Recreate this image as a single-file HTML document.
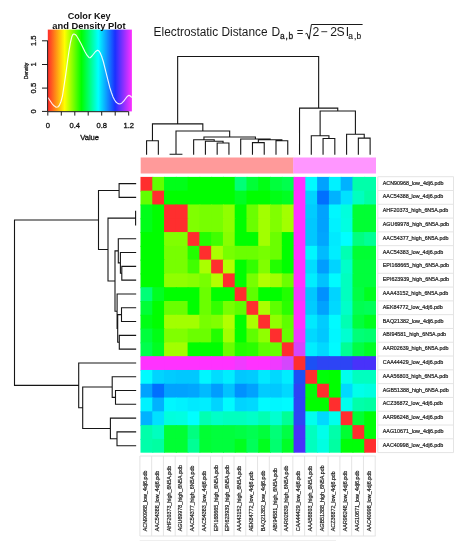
<!DOCTYPE html>
<html lang="en"><head><meta charset="utf-8"><title>Electrostatic Distance heatmap</title>
<style>html,body{margin:0;padding:0;background:#fff}svg{display:block;filter:blur(0.4px)}</style></head>
<body>
<svg width="466" height="550" viewBox="0 0 466 550" font-family="'Liberation Sans', Arial, Helvetica, sans-serif">
<defs><linearGradient id="rb" x1="0" y1="0" x2="1" y2="0"><stop offset="0" stop-color="#ff2a2a"/><stop offset="0.2" stop-color="#ffff00"/><stop offset="0.4" stop-color="#00ff00"/><stop offset="0.6" stop-color="#00ffff"/><stop offset="0.8" stop-color="#1a30ff"/><stop offset="1" stop-color="#ff30ff"/></linearGradient></defs>
<rect width="466" height="550" fill="#fff"/>
<rect x="47.8" y="29.6" width="84.1" height="81.8" fill="url(#rb)"/>
<polyline fill="none" stroke="#fff" stroke-opacity="0.9" stroke-width="1.15" stroke-linejoin="round" points="47.9,97.5 51.8,103.3 54,105.8 56.1,107.2 57.8,107 59.3,105.5 61,101.5 62.5,95.8 64,86 65.75,74.4 67.4,62 69,50.8 70.4,42.5 71.8,36.8 72.9,34.6 73.9,34 75.2,34.5 76.5,35.7 78.6,39.2 80.8,43.2 85,51.8 87,55.2 88.9,57.4 89.7,57.8 90.4,57.6 92,56 93.6,54 95.6,51.5 97.5,50.3 98.8,50.8 100,52.5 101.6,56.2 103.3,61.5 106.5,74.4 109.7,87.2 111.4,92.5 113,96.9 114.6,100 116.2,102.3 118,103.6 119.8,104 121.7,103.2 123.7,101.2 125.3,99 126.9,96.9 128,95.8 129,95.4 130.4,96 131.8,97.5"/>
<path d="M47.8,111.7H128.7M47.8,111.7V115.60000000000001M61.3,111.7V115.60000000000001M74.8,111.7V115.60000000000001M88.2,111.7V115.60000000000001M101.7,111.7V115.60000000000001M115.2,111.7V115.60000000000001M128.7,111.7V115.60000000000001M42,111.4H47.8M42,88.1H47.8M42,64.5H47.8M42,40.8H47.8M47.6,40.8V111.4" stroke="#1a1a1a" stroke-width="1" fill="none"/>
<text x="47.8" y="128.3" font-size="7.6" text-anchor="middle" fill="#111" stroke="#111" stroke-width="0.3">0</text>
<text x="74.8" y="128.3" font-size="7.6" text-anchor="middle" fill="#111" stroke="#111" stroke-width="0.3">0.4</text>
<text x="101.7" y="128.3" font-size="7.6" text-anchor="middle" fill="#111" stroke="#111" stroke-width="0.3">0.8</text>
<text x="128.7" y="128.3" font-size="7.6" text-anchor="middle" fill="#111" stroke="#111" stroke-width="0.3">1.2</text>
<text x="89.6" y="139.8" font-size="7.6" text-anchor="middle" fill="#111" stroke="#111" stroke-width="0.3">Value</text>
<text transform="translate(36.2,111.4) rotate(-90)" font-size="7.6" text-anchor="middle" fill="#111" stroke="#111" stroke-width="0.3">0</text>
<text transform="translate(36.2,88.1) rotate(-90)" font-size="7.6" text-anchor="middle" fill="#111" stroke="#111" stroke-width="0.3">0.5</text>
<text transform="translate(36.2,64.5) rotate(-90)" font-size="7.6" text-anchor="middle" fill="#111" stroke="#111" stroke-width="0.3">1</text>
<text transform="translate(36.2,40.8) rotate(-90)" font-size="7.6" text-anchor="middle" fill="#111" stroke="#111" stroke-width="0.3">1.5</text>
<text transform="translate(28.2,71) rotate(-90)" font-size="5" text-anchor="middle" fill="#111" stroke="#111" stroke-width="0.25">Density</text>
<text x="89.2" y="19.3" font-size="9.2" font-weight="bold" text-anchor="middle" fill="#111" textLength="43" lengthAdjust="spacingAndGlyphs">Color Key</text>
<text x="89" y="29.1" font-size="9.2" font-weight="bold" text-anchor="middle" fill="#111" textLength="73.4" lengthAdjust="spacingAndGlyphs">and Density Plot</text>
<text x="153.6" y="36" font-size="12" fill="#1a1a1a" textLength="114" lengthAdjust="spacingAndGlyphs">Electrostatic Distance</text>
<text x="271.4" y="36" font-size="12" fill="#1a1a1a">D</text>
<text y="38.6" font-size="8.4" fill="#1a1a1a" stroke="#1a1a1a" stroke-width="0.3"><tspan x="279.9">a</tspan><tspan x="285.6">,</tspan><tspan x="288.4">b</tspan></text>
<text x="296.7" y="35.9" font-size="12" fill="#1a1a1a" textLength="6.6" lengthAdjust="spacingAndGlyphs">=</text>
<path d="M305.4,33.9L306.9,33.2L309.2,39.2L311.4,24.5H362.6" stroke="#1a1a1a" stroke-width="1" fill="none"/>
<text y="36" font-size="12.2" fill="#1a1a1a"><tspan x="312.6">2</tspan><tspan x="320.4">−</tspan><tspan x="330.3">2</tspan><tspan x="336.4">S</tspan><tspan x="345.7">I</tspan></text>
<text y="38.6" font-size="8.4" fill="#1a1a1a" stroke="#1a1a1a" stroke-width="0.15"><tspan x="348.15">a</tspan><tspan x="353.9">,</tspan><tspan x="356.5">b</tspan></text>
<rect x="140.7" y="157.5" width="152.80" height="16" fill="#ff9a9a"/>
<rect x="293.20" y="157.5" width="82.80" height="16" fill="#ff96ff"/>
<g>
<rect x="140.50" y="176.90" width="12.78" height="14.79" fill="#ff2e2e"/>
<rect x="152.28" y="176.90" width="12.78" height="14.79" fill="#62ff00"/>
<rect x="164.05" y="176.90" width="12.78" height="14.79" fill="#00ff19"/>
<rect x="175.82" y="176.90" width="12.78" height="14.79" fill="#00ff19"/>
<rect x="187.60" y="176.90" width="12.78" height="14.79" fill="#00ff00"/>
<rect x="199.38" y="176.90" width="12.78" height="14.79" fill="#00ff00"/>
<rect x="211.15" y="176.90" width="12.78" height="14.79" fill="#00ff00"/>
<rect x="222.93" y="176.90" width="12.78" height="14.79" fill="#00ff00"/>
<rect x="234.70" y="176.90" width="12.78" height="14.79" fill="#00ff77"/>
<rect x="246.48" y="176.90" width="12.78" height="14.79" fill="#00ff37"/>
<rect x="258.25" y="176.90" width="12.78" height="14.79" fill="#00ff15"/>
<rect x="270.02" y="176.90" width="12.78" height="14.79" fill="#00ff3c"/>
<rect x="281.80" y="176.90" width="12.78" height="14.79" fill="#00ff4d"/>
<rect x="293.58" y="176.90" width="12.78" height="14.79" fill="#ff32ff"/>
<rect x="305.35" y="176.90" width="12.78" height="14.79" fill="#00fbff"/>
<rect x="317.12" y="176.90" width="12.78" height="14.79" fill="#00a2ff"/>
<rect x="328.90" y="176.90" width="12.78" height="14.79" fill="#00f2ff"/>
<rect x="340.68" y="176.90" width="12.78" height="14.79" fill="#00b2ff"/>
<rect x="352.45" y="176.90" width="12.78" height="14.79" fill="#00ffaa"/>
<rect x="364.23" y="176.90" width="11.78" height="14.79" fill="#00ffaa"/>
<rect x="140.50" y="190.69" width="12.78" height="14.79" fill="#62ff00"/>
<rect x="152.28" y="190.69" width="12.78" height="14.79" fill="#ff2e2e"/>
<rect x="164.05" y="190.69" width="12.78" height="14.79" fill="#00ff00"/>
<rect x="175.82" y="190.69" width="12.78" height="14.79" fill="#00ff00"/>
<rect x="187.60" y="190.69" width="12.78" height="14.79" fill="#00ff00"/>
<rect x="199.38" y="190.69" width="12.78" height="14.79" fill="#00ff00"/>
<rect x="211.15" y="190.69" width="12.78" height="14.79" fill="#00ff00"/>
<rect x="222.93" y="190.69" width="12.78" height="14.79" fill="#00ff00"/>
<rect x="234.70" y="190.69" width="12.78" height="14.79" fill="#00ff22"/>
<rect x="246.48" y="190.69" width="12.78" height="14.79" fill="#00ff00"/>
<rect x="258.25" y="190.69" width="12.78" height="14.79" fill="#00ff00"/>
<rect x="270.02" y="190.69" width="12.78" height="14.79" fill="#00ff15"/>
<rect x="281.80" y="190.69" width="12.78" height="14.79" fill="#00ff22"/>
<rect x="293.58" y="190.69" width="12.78" height="14.79" fill="#ff32ff"/>
<rect x="305.35" y="190.69" width="12.78" height="14.79" fill="#00d4ff"/>
<rect x="317.12" y="190.69" width="12.78" height="14.79" fill="#006fff"/>
<rect x="328.90" y="190.69" width="12.78" height="14.79" fill="#00b2ff"/>
<rect x="340.68" y="190.69" width="12.78" height="14.79" fill="#00e1ff"/>
<rect x="352.45" y="190.69" width="12.78" height="14.79" fill="#00ffbf"/>
<rect x="364.23" y="190.69" width="11.78" height="14.79" fill="#00ffa2"/>
<rect x="140.50" y="204.48" width="12.78" height="14.79" fill="#00ff19"/>
<rect x="152.28" y="204.48" width="12.78" height="14.79" fill="#00ff00"/>
<rect x="164.05" y="204.48" width="12.78" height="14.79" fill="#ff2e2e"/>
<rect x="175.82" y="204.48" width="12.78" height="14.79" fill="#ff2e2e"/>
<rect x="187.60" y="204.48" width="12.78" height="14.79" fill="#80ff00"/>
<rect x="199.38" y="204.48" width="12.78" height="14.79" fill="#77ff00"/>
<rect x="211.15" y="204.48" width="12.78" height="14.79" fill="#77ff00"/>
<rect x="222.93" y="204.48" width="12.78" height="14.79" fill="#90ff00"/>
<rect x="234.70" y="204.48" width="12.78" height="14.79" fill="#00ff00"/>
<rect x="246.48" y="204.48" width="12.78" height="14.79" fill="#6aff00"/>
<rect x="258.25" y="204.48" width="12.78" height="14.79" fill="#a2ff00"/>
<rect x="270.02" y="204.48" width="12.78" height="14.79" fill="#80ff00"/>
<rect x="281.80" y="204.48" width="12.78" height="14.79" fill="#a2ff00"/>
<rect x="293.58" y="204.48" width="12.78" height="14.79" fill="#ff32ff"/>
<rect x="305.35" y="204.48" width="12.78" height="14.79" fill="#00ccff"/>
<rect x="317.12" y="204.48" width="12.78" height="14.79" fill="#00a2ff"/>
<rect x="328.90" y="204.48" width="12.78" height="14.79" fill="#00f7ff"/>
<rect x="340.68" y="204.48" width="12.78" height="14.79" fill="#00ffdd"/>
<rect x="352.45" y="204.48" width="12.78" height="14.79" fill="#00ff33"/>
<rect x="364.23" y="204.48" width="11.78" height="14.79" fill="#00ff33"/>
<rect x="140.50" y="218.27" width="12.78" height="14.79" fill="#00ff19"/>
<rect x="152.28" y="218.27" width="12.78" height="14.79" fill="#00ff00"/>
<rect x="164.05" y="218.27" width="12.78" height="14.79" fill="#ff2e2e"/>
<rect x="175.82" y="218.27" width="12.78" height="14.79" fill="#ff2e2e"/>
<rect x="187.60" y="218.27" width="12.78" height="14.79" fill="#80ff00"/>
<rect x="199.38" y="218.27" width="12.78" height="14.79" fill="#77ff00"/>
<rect x="211.15" y="218.27" width="12.78" height="14.79" fill="#77ff00"/>
<rect x="222.93" y="218.27" width="12.78" height="14.79" fill="#90ff00"/>
<rect x="234.70" y="218.27" width="12.78" height="14.79" fill="#00ff00"/>
<rect x="246.48" y="218.27" width="12.78" height="14.79" fill="#6aff00"/>
<rect x="258.25" y="218.27" width="12.78" height="14.79" fill="#a2ff00"/>
<rect x="270.02" y="218.27" width="12.78" height="14.79" fill="#80ff00"/>
<rect x="281.80" y="218.27" width="12.78" height="14.79" fill="#a2ff00"/>
<rect x="293.58" y="218.27" width="12.78" height="14.79" fill="#ff32ff"/>
<rect x="305.35" y="218.27" width="12.78" height="14.79" fill="#00c8ff"/>
<rect x="317.12" y="218.27" width="12.78" height="14.79" fill="#00a2ff"/>
<rect x="328.90" y="218.27" width="12.78" height="14.79" fill="#00f2ff"/>
<rect x="340.68" y="218.27" width="12.78" height="14.79" fill="#00ffe1"/>
<rect x="352.45" y="218.27" width="12.78" height="14.79" fill="#00ff33"/>
<rect x="364.23" y="218.27" width="11.78" height="14.79" fill="#00ff33"/>
<rect x="140.50" y="232.06" width="12.78" height="14.79" fill="#00ff00"/>
<rect x="152.28" y="232.06" width="12.78" height="14.79" fill="#00ff00"/>
<rect x="164.05" y="232.06" width="12.78" height="14.79" fill="#80ff00"/>
<rect x="175.82" y="232.06" width="12.78" height="14.79" fill="#80ff00"/>
<rect x="187.60" y="232.06" width="12.78" height="14.79" fill="#ff2e2e"/>
<rect x="199.38" y="232.06" width="12.78" height="14.79" fill="#22ff00"/>
<rect x="211.15" y="232.06" width="12.78" height="14.79" fill="#40ff00"/>
<rect x="222.93" y="232.06" width="12.78" height="14.79" fill="#88ff00"/>
<rect x="234.70" y="232.06" width="12.78" height="14.79" fill="#00ff00"/>
<rect x="246.48" y="232.06" width="12.78" height="14.79" fill="#00ff00"/>
<rect x="258.25" y="232.06" width="12.78" height="14.79" fill="#a2ff00"/>
<rect x="270.02" y="232.06" width="12.78" height="14.79" fill="#6aff00"/>
<rect x="281.80" y="232.06" width="12.78" height="14.79" fill="#00ff00"/>
<rect x="293.58" y="232.06" width="12.78" height="14.79" fill="#ff32ff"/>
<rect x="305.35" y="232.06" width="12.78" height="14.79" fill="#00c8ff"/>
<rect x="317.12" y="232.06" width="12.78" height="14.79" fill="#00a6ff"/>
<rect x="328.90" y="232.06" width="12.78" height="14.79" fill="#00eaff"/>
<rect x="340.68" y="232.06" width="12.78" height="14.79" fill="#00ffff"/>
<rect x="352.45" y="232.06" width="12.78" height="14.79" fill="#00ff80"/>
<rect x="364.23" y="232.06" width="11.78" height="14.79" fill="#00ff95"/>
<rect x="140.50" y="245.85" width="12.78" height="14.79" fill="#00ff00"/>
<rect x="152.28" y="245.85" width="12.78" height="14.79" fill="#00ff00"/>
<rect x="164.05" y="245.85" width="12.78" height="14.79" fill="#77ff00"/>
<rect x="175.82" y="245.85" width="12.78" height="14.79" fill="#77ff00"/>
<rect x="187.60" y="245.85" width="12.78" height="14.79" fill="#22ff00"/>
<rect x="199.38" y="245.85" width="12.78" height="14.79" fill="#ff2e2e"/>
<rect x="211.15" y="245.85" width="12.78" height="14.79" fill="#aaff00"/>
<rect x="222.93" y="245.85" width="12.78" height="14.79" fill="#77ff00"/>
<rect x="234.70" y="245.85" width="12.78" height="14.79" fill="#6aff00"/>
<rect x="246.48" y="245.85" width="12.78" height="14.79" fill="#6aff00"/>
<rect x="258.25" y="245.85" width="12.78" height="14.79" fill="#77ff00"/>
<rect x="270.02" y="245.85" width="12.78" height="14.79" fill="#6aff00"/>
<rect x="281.80" y="245.85" width="12.78" height="14.79" fill="#00ff00"/>
<rect x="293.58" y="245.85" width="12.78" height="14.79" fill="#ff32ff"/>
<rect x="305.35" y="245.85" width="12.78" height="14.79" fill="#00f7ff"/>
<rect x="317.12" y="245.85" width="12.78" height="14.79" fill="#00bbff"/>
<rect x="328.90" y="245.85" width="12.78" height="14.79" fill="#00eeff"/>
<rect x="340.68" y="245.85" width="12.78" height="14.79" fill="#00ffb3"/>
<rect x="352.45" y="245.85" width="12.78" height="14.79" fill="#00ff33"/>
<rect x="364.23" y="245.85" width="11.78" height="14.79" fill="#00ff33"/>
<rect x="140.50" y="259.64" width="12.78" height="14.79" fill="#00ff00"/>
<rect x="152.28" y="259.64" width="12.78" height="14.79" fill="#00ff00"/>
<rect x="164.05" y="259.64" width="12.78" height="14.79" fill="#77ff00"/>
<rect x="175.82" y="259.64" width="12.78" height="14.79" fill="#77ff00"/>
<rect x="187.60" y="259.64" width="12.78" height="14.79" fill="#40ff00"/>
<rect x="199.38" y="259.64" width="12.78" height="14.79" fill="#aaff00"/>
<rect x="211.15" y="259.64" width="12.78" height="14.79" fill="#ff2e2e"/>
<rect x="222.93" y="259.64" width="12.78" height="14.79" fill="#b2ff00"/>
<rect x="234.70" y="259.64" width="12.78" height="14.79" fill="#00ff00"/>
<rect x="246.48" y="259.64" width="12.78" height="14.79" fill="#33ff00"/>
<rect x="258.25" y="259.64" width="12.78" height="14.79" fill="#80ff00"/>
<rect x="270.02" y="259.64" width="12.78" height="14.79" fill="#22ff00"/>
<rect x="281.80" y="259.64" width="12.78" height="14.79" fill="#00ff00"/>
<rect x="293.58" y="259.64" width="12.78" height="14.79" fill="#ff32ff"/>
<rect x="305.35" y="259.64" width="12.78" height="14.79" fill="#00ddff"/>
<rect x="317.12" y="259.64" width="12.78" height="14.79" fill="#009dff"/>
<rect x="328.90" y="259.64" width="12.78" height="14.79" fill="#00d4ff"/>
<rect x="340.68" y="259.64" width="12.78" height="14.79" fill="#00ffc8"/>
<rect x="352.45" y="259.64" width="12.78" height="14.79" fill="#00ff3c"/>
<rect x="364.23" y="259.64" width="11.78" height="14.79" fill="#00ff3c"/>
<rect x="140.50" y="273.43" width="12.78" height="14.79" fill="#00ff00"/>
<rect x="152.28" y="273.43" width="12.78" height="14.79" fill="#00ff00"/>
<rect x="164.05" y="273.43" width="12.78" height="14.79" fill="#90ff00"/>
<rect x="175.82" y="273.43" width="12.78" height="14.79" fill="#90ff00"/>
<rect x="187.60" y="273.43" width="12.78" height="14.79" fill="#88ff00"/>
<rect x="199.38" y="273.43" width="12.78" height="14.79" fill="#77ff00"/>
<rect x="211.15" y="273.43" width="12.78" height="14.79" fill="#b2ff00"/>
<rect x="222.93" y="273.43" width="12.78" height="14.79" fill="#ff2e2e"/>
<rect x="234.70" y="273.43" width="12.78" height="14.79" fill="#00ff00"/>
<rect x="246.48" y="273.43" width="12.78" height="14.79" fill="#77ff00"/>
<rect x="258.25" y="273.43" width="12.78" height="14.79" fill="#b2ff00"/>
<rect x="270.02" y="273.43" width="12.78" height="14.79" fill="#a2ff00"/>
<rect x="281.80" y="273.43" width="12.78" height="14.79" fill="#6aff00"/>
<rect x="293.58" y="273.43" width="12.78" height="14.79" fill="#ff32ff"/>
<rect x="305.35" y="273.43" width="12.78" height="14.79" fill="#00eeff"/>
<rect x="317.12" y="273.43" width="12.78" height="14.79" fill="#00c3ff"/>
<rect x="328.90" y="273.43" width="12.78" height="14.79" fill="#00fbff"/>
<rect x="340.68" y="273.43" width="12.78" height="14.79" fill="#00ffbf"/>
<rect x="352.45" y="273.43" width="12.78" height="14.79" fill="#00ff3c"/>
<rect x="364.23" y="273.43" width="11.78" height="14.79" fill="#00ff3c"/>
<rect x="140.50" y="287.22" width="12.78" height="14.79" fill="#00ff77"/>
<rect x="152.28" y="287.22" width="12.78" height="14.79" fill="#00ff22"/>
<rect x="164.05" y="287.22" width="12.78" height="14.79" fill="#00ff00"/>
<rect x="175.82" y="287.22" width="12.78" height="14.79" fill="#00ff00"/>
<rect x="187.60" y="287.22" width="12.78" height="14.79" fill="#00ff00"/>
<rect x="199.38" y="287.22" width="12.78" height="14.79" fill="#6aff00"/>
<rect x="211.15" y="287.22" width="12.78" height="14.79" fill="#00ff00"/>
<rect x="222.93" y="287.22" width="12.78" height="14.79" fill="#00ff00"/>
<rect x="234.70" y="287.22" width="12.78" height="14.79" fill="#ff2e2e"/>
<rect x="246.48" y="287.22" width="12.78" height="14.79" fill="#5eff00"/>
<rect x="258.25" y="287.22" width="12.78" height="14.79" fill="#00ff00"/>
<rect x="270.02" y="287.22" width="12.78" height="14.79" fill="#00ff00"/>
<rect x="281.80" y="287.22" width="12.78" height="14.79" fill="#22ff00"/>
<rect x="293.58" y="287.22" width="12.78" height="14.79" fill="#f03aff"/>
<rect x="305.35" y="287.22" width="12.78" height="14.79" fill="#00c8ff"/>
<rect x="317.12" y="287.22" width="12.78" height="14.79" fill="#0091ff"/>
<rect x="328.90" y="287.22" width="12.78" height="14.79" fill="#00d4ff"/>
<rect x="340.68" y="287.22" width="12.78" height="14.79" fill="#00ffbf"/>
<rect x="352.45" y="287.22" width="12.78" height="14.79" fill="#00ff44"/>
<rect x="364.23" y="287.22" width="11.78" height="14.79" fill="#00ff1e"/>
<rect x="140.50" y="301.01" width="12.78" height="14.79" fill="#00ff37"/>
<rect x="152.28" y="301.01" width="12.78" height="14.79" fill="#00ff00"/>
<rect x="164.05" y="301.01" width="12.78" height="14.79" fill="#6aff00"/>
<rect x="175.82" y="301.01" width="12.78" height="14.79" fill="#6aff00"/>
<rect x="187.60" y="301.01" width="12.78" height="14.79" fill="#00ff00"/>
<rect x="199.38" y="301.01" width="12.78" height="14.79" fill="#6aff00"/>
<rect x="211.15" y="301.01" width="12.78" height="14.79" fill="#33ff00"/>
<rect x="222.93" y="301.01" width="12.78" height="14.79" fill="#77ff00"/>
<rect x="234.70" y="301.01" width="12.78" height="14.79" fill="#5eff00"/>
<rect x="246.48" y="301.01" width="12.78" height="14.79" fill="#ff2e2e"/>
<rect x="258.25" y="301.01" width="12.78" height="14.79" fill="#aaff00"/>
<rect x="270.02" y="301.01" width="12.78" height="14.79" fill="#5eff00"/>
<rect x="281.80" y="301.01" width="12.78" height="14.79" fill="#2aff00"/>
<rect x="293.58" y="301.01" width="12.78" height="14.79" fill="#ff32ff"/>
<rect x="305.35" y="301.01" width="12.78" height="14.79" fill="#00ccff"/>
<rect x="317.12" y="301.01" width="12.78" height="14.79" fill="#00a2ff"/>
<rect x="328.90" y="301.01" width="12.78" height="14.79" fill="#00d9ff"/>
<rect x="340.68" y="301.01" width="12.78" height="14.79" fill="#00ffc8"/>
<rect x="352.45" y="301.01" width="12.78" height="14.79" fill="#00ff51"/>
<rect x="364.23" y="301.01" width="11.78" height="14.79" fill="#00ff59"/>
<rect x="140.50" y="314.80" width="12.78" height="14.79" fill="#00ff15"/>
<rect x="152.28" y="314.80" width="12.78" height="14.79" fill="#00ff00"/>
<rect x="164.05" y="314.80" width="12.78" height="14.79" fill="#a2ff00"/>
<rect x="175.82" y="314.80" width="12.78" height="14.79" fill="#a2ff00"/>
<rect x="187.60" y="314.80" width="12.78" height="14.79" fill="#a2ff00"/>
<rect x="199.38" y="314.80" width="12.78" height="14.79" fill="#77ff00"/>
<rect x="211.15" y="314.80" width="12.78" height="14.79" fill="#80ff00"/>
<rect x="222.93" y="314.80" width="12.78" height="14.79" fill="#b2ff00"/>
<rect x="234.70" y="314.80" width="12.78" height="14.79" fill="#00ff00"/>
<rect x="246.48" y="314.80" width="12.78" height="14.79" fill="#aaff00"/>
<rect x="258.25" y="314.80" width="12.78" height="14.79" fill="#ff2e2e"/>
<rect x="270.02" y="314.80" width="12.78" height="14.79" fill="#90ff00"/>
<rect x="281.80" y="314.80" width="12.78" height="14.79" fill="#5eff00"/>
<rect x="293.58" y="314.80" width="12.78" height="14.79" fill="#ff32ff"/>
<rect x="305.35" y="314.80" width="12.78" height="14.79" fill="#00eaff"/>
<rect x="317.12" y="314.80" width="12.78" height="14.79" fill="#00ccff"/>
<rect x="328.90" y="314.80" width="12.78" height="14.79" fill="#00fbff"/>
<rect x="340.68" y="314.80" width="12.78" height="14.79" fill="#00ffb3"/>
<rect x="352.45" y="314.80" width="12.78" height="14.79" fill="#00ff3c"/>
<rect x="364.23" y="314.80" width="11.78" height="14.79" fill="#00ff1e"/>
<rect x="140.50" y="328.59" width="12.78" height="14.79" fill="#00ff3c"/>
<rect x="152.28" y="328.59" width="12.78" height="14.79" fill="#00ff15"/>
<rect x="164.05" y="328.59" width="12.78" height="14.79" fill="#80ff00"/>
<rect x="175.82" y="328.59" width="12.78" height="14.79" fill="#80ff00"/>
<rect x="187.60" y="328.59" width="12.78" height="14.79" fill="#6aff00"/>
<rect x="199.38" y="328.59" width="12.78" height="14.79" fill="#6aff00"/>
<rect x="211.15" y="328.59" width="12.78" height="14.79" fill="#22ff00"/>
<rect x="222.93" y="328.59" width="12.78" height="14.79" fill="#a2ff00"/>
<rect x="234.70" y="328.59" width="12.78" height="14.79" fill="#00ff00"/>
<rect x="246.48" y="328.59" width="12.78" height="14.79" fill="#5eff00"/>
<rect x="258.25" y="328.59" width="12.78" height="14.79" fill="#90ff00"/>
<rect x="270.02" y="328.59" width="12.78" height="14.79" fill="#ff2e2e"/>
<rect x="281.80" y="328.59" width="12.78" height="14.79" fill="#66ff00"/>
<rect x="293.58" y="328.59" width="12.78" height="14.79" fill="#f03aff"/>
<rect x="305.35" y="328.59" width="12.78" height="14.79" fill="#00d9ff"/>
<rect x="317.12" y="328.59" width="12.78" height="14.79" fill="#00c8ff"/>
<rect x="328.90" y="328.59" width="12.78" height="14.79" fill="#00f7ff"/>
<rect x="340.68" y="328.59" width="12.78" height="14.79" fill="#00ffd0"/>
<rect x="352.45" y="328.59" width="12.78" height="14.79" fill="#00ff77"/>
<rect x="364.23" y="328.59" width="11.78" height="14.79" fill="#00ff6f"/>
<rect x="140.50" y="342.38" width="12.78" height="14.79" fill="#00ff4d"/>
<rect x="152.28" y="342.38" width="12.78" height="14.79" fill="#00ff22"/>
<rect x="164.05" y="342.38" width="12.78" height="14.79" fill="#a2ff00"/>
<rect x="175.82" y="342.38" width="12.78" height="14.79" fill="#a2ff00"/>
<rect x="187.60" y="342.38" width="12.78" height="14.79" fill="#00ff00"/>
<rect x="199.38" y="342.38" width="12.78" height="14.79" fill="#00ff00"/>
<rect x="211.15" y="342.38" width="12.78" height="14.79" fill="#00ff00"/>
<rect x="222.93" y="342.38" width="12.78" height="14.79" fill="#6aff00"/>
<rect x="234.70" y="342.38" width="12.78" height="14.79" fill="#22ff00"/>
<rect x="246.48" y="342.38" width="12.78" height="14.79" fill="#2aff00"/>
<rect x="258.25" y="342.38" width="12.78" height="14.79" fill="#5eff00"/>
<rect x="270.02" y="342.38" width="12.78" height="14.79" fill="#66ff00"/>
<rect x="281.80" y="342.38" width="12.78" height="14.79" fill="#ff2e2e"/>
<rect x="293.58" y="342.38" width="12.78" height="14.79" fill="#d446fc"/>
<rect x="305.35" y="342.38" width="12.78" height="14.79" fill="#00eeff"/>
<rect x="317.12" y="342.38" width="12.78" height="14.79" fill="#00d9ff"/>
<rect x="328.90" y="342.38" width="12.78" height="14.79" fill="#00fbff"/>
<rect x="340.68" y="342.38" width="12.78" height="14.79" fill="#00ff95"/>
<rect x="352.45" y="342.38" width="12.78" height="14.79" fill="#00ff44"/>
<rect x="364.23" y="342.38" width="11.78" height="14.79" fill="#00ff26"/>
<rect x="140.50" y="356.17" width="12.78" height="14.79" fill="#ff32ff"/>
<rect x="152.28" y="356.17" width="12.78" height="14.79" fill="#ff32ff"/>
<rect x="164.05" y="356.17" width="12.78" height="14.79" fill="#ff32ff"/>
<rect x="175.82" y="356.17" width="12.78" height="14.79" fill="#ff32ff"/>
<rect x="187.60" y="356.17" width="12.78" height="14.79" fill="#ff32ff"/>
<rect x="199.38" y="356.17" width="12.78" height="14.79" fill="#ff32ff"/>
<rect x="211.15" y="356.17" width="12.78" height="14.79" fill="#ff32ff"/>
<rect x="222.93" y="356.17" width="12.78" height="14.79" fill="#ff32ff"/>
<rect x="234.70" y="356.17" width="12.78" height="14.79" fill="#f03aff"/>
<rect x="246.48" y="356.17" width="12.78" height="14.79" fill="#ff32ff"/>
<rect x="258.25" y="356.17" width="12.78" height="14.79" fill="#ff32ff"/>
<rect x="270.02" y="356.17" width="12.78" height="14.79" fill="#f03aff"/>
<rect x="281.80" y="356.17" width="12.78" height="14.79" fill="#d446fc"/>
<rect x="293.58" y="356.17" width="12.78" height="14.79" fill="#ff2e2e"/>
<rect x="305.35" y="356.17" width="12.78" height="14.79" fill="#1c50f5"/>
<rect x="317.12" y="356.17" width="12.78" height="14.79" fill="#2d44f5"/>
<rect x="328.90" y="356.17" width="12.78" height="14.79" fill="#2d44f5"/>
<rect x="340.68" y="356.17" width="12.78" height="14.79" fill="#2d44f5"/>
<rect x="352.45" y="356.17" width="12.78" height="14.79" fill="#4832fa"/>
<rect x="364.23" y="356.17" width="11.78" height="14.79" fill="#4832fa"/>
<rect x="140.50" y="369.96" width="12.78" height="14.79" fill="#00fbff"/>
<rect x="152.28" y="369.96" width="12.78" height="14.79" fill="#00d4ff"/>
<rect x="164.05" y="369.96" width="12.78" height="14.79" fill="#00ccff"/>
<rect x="175.82" y="369.96" width="12.78" height="14.79" fill="#00c8ff"/>
<rect x="187.60" y="369.96" width="12.78" height="14.79" fill="#00c8ff"/>
<rect x="199.38" y="369.96" width="12.78" height="14.79" fill="#00f7ff"/>
<rect x="211.15" y="369.96" width="12.78" height="14.79" fill="#00ddff"/>
<rect x="222.93" y="369.96" width="12.78" height="14.79" fill="#00eeff"/>
<rect x="234.70" y="369.96" width="12.78" height="14.79" fill="#00c8ff"/>
<rect x="246.48" y="369.96" width="12.78" height="14.79" fill="#00ccff"/>
<rect x="258.25" y="369.96" width="12.78" height="14.79" fill="#00eaff"/>
<rect x="270.02" y="369.96" width="12.78" height="14.79" fill="#00d9ff"/>
<rect x="281.80" y="369.96" width="12.78" height="14.79" fill="#00eeff"/>
<rect x="293.58" y="369.96" width="12.78" height="14.79" fill="#1c50f5"/>
<rect x="305.35" y="369.96" width="12.78" height="14.79" fill="#ff2e2e"/>
<rect x="317.12" y="369.96" width="12.78" height="14.79" fill="#00ff08"/>
<rect x="328.90" y="369.96" width="12.78" height="14.79" fill="#00ff00"/>
<rect x="340.68" y="369.96" width="12.78" height="14.79" fill="#00ffee"/>
<rect x="352.45" y="369.96" width="12.78" height="14.79" fill="#00ffbf"/>
<rect x="364.23" y="369.96" width="11.78" height="14.79" fill="#00ffbf"/>
<rect x="140.50" y="383.75" width="12.78" height="14.79" fill="#00a2ff"/>
<rect x="152.28" y="383.75" width="12.78" height="14.79" fill="#006fff"/>
<rect x="164.05" y="383.75" width="12.78" height="14.79" fill="#00a2ff"/>
<rect x="175.82" y="383.75" width="12.78" height="14.79" fill="#00a2ff"/>
<rect x="187.60" y="383.75" width="12.78" height="14.79" fill="#00a6ff"/>
<rect x="199.38" y="383.75" width="12.78" height="14.79" fill="#00bbff"/>
<rect x="211.15" y="383.75" width="12.78" height="14.79" fill="#009dff"/>
<rect x="222.93" y="383.75" width="12.78" height="14.79" fill="#00c3ff"/>
<rect x="234.70" y="383.75" width="12.78" height="14.79" fill="#0091ff"/>
<rect x="246.48" y="383.75" width="12.78" height="14.79" fill="#00a2ff"/>
<rect x="258.25" y="383.75" width="12.78" height="14.79" fill="#00ccff"/>
<rect x="270.02" y="383.75" width="12.78" height="14.79" fill="#00c8ff"/>
<rect x="281.80" y="383.75" width="12.78" height="14.79" fill="#00d9ff"/>
<rect x="293.58" y="383.75" width="12.78" height="14.79" fill="#2d44f5"/>
<rect x="305.35" y="383.75" width="12.78" height="14.79" fill="#00ff08"/>
<rect x="317.12" y="383.75" width="12.78" height="14.79" fill="#ff2e2e"/>
<rect x="328.90" y="383.75" width="12.78" height="14.79" fill="#00ff00"/>
<rect x="340.68" y="383.75" width="12.78" height="14.79" fill="#00d9ff"/>
<rect x="352.45" y="383.75" width="12.78" height="14.79" fill="#00ffea"/>
<rect x="364.23" y="383.75" width="11.78" height="14.79" fill="#00ffe1"/>
<rect x="140.50" y="397.54" width="12.78" height="14.79" fill="#00f2ff"/>
<rect x="152.28" y="397.54" width="12.78" height="14.79" fill="#00b2ff"/>
<rect x="164.05" y="397.54" width="12.78" height="14.79" fill="#00f7ff"/>
<rect x="175.82" y="397.54" width="12.78" height="14.79" fill="#00f2ff"/>
<rect x="187.60" y="397.54" width="12.78" height="14.79" fill="#00eaff"/>
<rect x="199.38" y="397.54" width="12.78" height="14.79" fill="#00eeff"/>
<rect x="211.15" y="397.54" width="12.78" height="14.79" fill="#00d4ff"/>
<rect x="222.93" y="397.54" width="12.78" height="14.79" fill="#00fbff"/>
<rect x="234.70" y="397.54" width="12.78" height="14.79" fill="#00d4ff"/>
<rect x="246.48" y="397.54" width="12.78" height="14.79" fill="#00d9ff"/>
<rect x="258.25" y="397.54" width="12.78" height="14.79" fill="#00fbff"/>
<rect x="270.02" y="397.54" width="12.78" height="14.79" fill="#00f7ff"/>
<rect x="281.80" y="397.54" width="12.78" height="14.79" fill="#00fbff"/>
<rect x="293.58" y="397.54" width="12.78" height="14.79" fill="#2d44f5"/>
<rect x="305.35" y="397.54" width="12.78" height="14.79" fill="#00ff00"/>
<rect x="317.12" y="397.54" width="12.78" height="14.79" fill="#00ff00"/>
<rect x="328.90" y="397.54" width="12.78" height="14.79" fill="#ff2e2e"/>
<rect x="340.68" y="397.54" width="12.78" height="14.79" fill="#00ffee"/>
<rect x="352.45" y="397.54" width="12.78" height="14.79" fill="#00ffaa"/>
<rect x="364.23" y="397.54" width="11.78" height="14.79" fill="#00ffa2"/>
<rect x="140.50" y="411.33" width="12.78" height="14.79" fill="#00b2ff"/>
<rect x="152.28" y="411.33" width="12.78" height="14.79" fill="#00e1ff"/>
<rect x="164.05" y="411.33" width="12.78" height="14.79" fill="#00ffdd"/>
<rect x="175.82" y="411.33" width="12.78" height="14.79" fill="#00ffe1"/>
<rect x="187.60" y="411.33" width="12.78" height="14.79" fill="#00ffff"/>
<rect x="199.38" y="411.33" width="12.78" height="14.79" fill="#00ffb3"/>
<rect x="211.15" y="411.33" width="12.78" height="14.79" fill="#00ffc8"/>
<rect x="222.93" y="411.33" width="12.78" height="14.79" fill="#00ffbf"/>
<rect x="234.70" y="411.33" width="12.78" height="14.79" fill="#00ffbf"/>
<rect x="246.48" y="411.33" width="12.78" height="14.79" fill="#00ffc8"/>
<rect x="258.25" y="411.33" width="12.78" height="14.79" fill="#00ffb3"/>
<rect x="270.02" y="411.33" width="12.78" height="14.79" fill="#00ffd0"/>
<rect x="281.80" y="411.33" width="12.78" height="14.79" fill="#00ff95"/>
<rect x="293.58" y="411.33" width="12.78" height="14.79" fill="#2d44f5"/>
<rect x="305.35" y="411.33" width="12.78" height="14.79" fill="#00ffee"/>
<rect x="317.12" y="411.33" width="12.78" height="14.79" fill="#00d9ff"/>
<rect x="328.90" y="411.33" width="12.78" height="14.79" fill="#00ffee"/>
<rect x="340.68" y="411.33" width="12.78" height="14.79" fill="#ff2e2e"/>
<rect x="352.45" y="411.33" width="12.78" height="14.79" fill="#00ff33"/>
<rect x="364.23" y="411.33" width="11.78" height="14.79" fill="#00ff08"/>
<rect x="140.50" y="425.12" width="12.78" height="14.79" fill="#00ffaa"/>
<rect x="152.28" y="425.12" width="12.78" height="14.79" fill="#00ffbf"/>
<rect x="164.05" y="425.12" width="12.78" height="14.79" fill="#00ff33"/>
<rect x="175.82" y="425.12" width="12.78" height="14.79" fill="#00ff33"/>
<rect x="187.60" y="425.12" width="12.78" height="14.79" fill="#00ff80"/>
<rect x="199.38" y="425.12" width="12.78" height="14.79" fill="#00ff33"/>
<rect x="211.15" y="425.12" width="12.78" height="14.79" fill="#00ff3c"/>
<rect x="222.93" y="425.12" width="12.78" height="14.79" fill="#00ff3c"/>
<rect x="234.70" y="425.12" width="12.78" height="14.79" fill="#00ff44"/>
<rect x="246.48" y="425.12" width="12.78" height="14.79" fill="#00ff51"/>
<rect x="258.25" y="425.12" width="12.78" height="14.79" fill="#00ff3c"/>
<rect x="270.02" y="425.12" width="12.78" height="14.79" fill="#00ff77"/>
<rect x="281.80" y="425.12" width="12.78" height="14.79" fill="#00ff44"/>
<rect x="293.58" y="425.12" width="12.78" height="14.79" fill="#4832fa"/>
<rect x="305.35" y="425.12" width="12.78" height="14.79" fill="#00ffbf"/>
<rect x="317.12" y="425.12" width="12.78" height="14.79" fill="#00ffea"/>
<rect x="328.90" y="425.12" width="12.78" height="14.79" fill="#00ffaa"/>
<rect x="340.68" y="425.12" width="12.78" height="14.79" fill="#00ff33"/>
<rect x="352.45" y="425.12" width="12.78" height="14.79" fill="#ff2e2e"/>
<rect x="364.23" y="425.12" width="11.78" height="14.79" fill="#00ff08"/>
<rect x="140.50" y="438.91" width="12.78" height="13.79" fill="#00ffaa"/>
<rect x="152.28" y="438.91" width="12.78" height="13.79" fill="#00ffa2"/>
<rect x="164.05" y="438.91" width="12.78" height="13.79" fill="#00ff33"/>
<rect x="175.82" y="438.91" width="12.78" height="13.79" fill="#00ff33"/>
<rect x="187.60" y="438.91" width="12.78" height="13.79" fill="#00ff95"/>
<rect x="199.38" y="438.91" width="12.78" height="13.79" fill="#00ff33"/>
<rect x="211.15" y="438.91" width="12.78" height="13.79" fill="#00ff3c"/>
<rect x="222.93" y="438.91" width="12.78" height="13.79" fill="#00ff3c"/>
<rect x="234.70" y="438.91" width="12.78" height="13.79" fill="#00ff1e"/>
<rect x="246.48" y="438.91" width="12.78" height="13.79" fill="#00ff59"/>
<rect x="258.25" y="438.91" width="12.78" height="13.79" fill="#00ff1e"/>
<rect x="270.02" y="438.91" width="12.78" height="13.79" fill="#00ff6f"/>
<rect x="281.80" y="438.91" width="12.78" height="13.79" fill="#00ff26"/>
<rect x="293.58" y="438.91" width="12.78" height="13.79" fill="#4832fa"/>
<rect x="305.35" y="438.91" width="12.78" height="13.79" fill="#00ffbf"/>
<rect x="317.12" y="438.91" width="12.78" height="13.79" fill="#00ffe1"/>
<rect x="328.90" y="438.91" width="12.78" height="13.79" fill="#00ffa2"/>
<rect x="340.68" y="438.91" width="12.78" height="13.79" fill="#00ff08"/>
<rect x="352.45" y="438.91" width="12.78" height="13.79" fill="#00ff08"/>
<rect x="364.23" y="438.91" width="11.78" height="13.79" fill="#ff2e2e"/>
</g>
<path d="M146.58,154.20V140.70H158.35V154.20M170.11,154.20V154.20H181.88V154.20M217.17,154.20V143.00H228.94V154.20M205.41,154.20V141.20H223.06V143.00M193.64,154.20V139.80H214.23V141.20M252.47,154.20V142.60H264.23V154.20M276.00,154.20V140.80H287.76V154.20M258.35,142.60V139.80H281.88V140.80M240.70,154.20V139.00H270.12V139.80M203.94,139.80V137.00H255.41V139.00M176.00,154.20V131.00H229.67V137.00M152.46,140.70V123.90H202.83V131.00M323.06,154.20V138.50H334.82V154.20M311.29,154.20V135.70H328.94V138.50M358.35,154.20V138.10H370.12V154.20M346.59,154.20V134.30H364.24V138.10M320.12,135.70V111.00H355.41V134.30M299.53,154.20V108.10H337.76V111.00M177.65,123.90V56.50H318.65V108.10" stroke="#161616" stroke-width="1.1" fill="none" stroke-linecap="square"/>
<path d="M135.60,183.60H119.10V197.39H135.60M135.60,211.19H135.60V224.98H135.60M135.60,266.37H121.80V280.16H135.60M135.60,252.57H120.40V273.26H121.80M135.60,238.78H118.30V262.92H120.40M135.60,307.75H121.50V321.55H135.60M135.60,335.34H119.30V349.14H135.60M121.50,314.65H117.70V342.24H119.30M135.60,293.96H117.10V328.44H117.70M118.30,250.85H115.00V311.20H117.10M135.60,218.08H108.00V281.02H115.00M119.10,190.50H98.50V249.55H108.00M135.60,390.52H115.50V404.32H135.60M135.60,376.73H112.20V397.42H115.50M135.60,431.91H117.00V445.70H135.60M135.60,418.11H110.40V438.81H117.00M112.20,387.07H82.70V428.46H110.40M135.60,362.93H78.70V407.77H82.70M98.50,220.02H14.50V385.35H78.70" stroke="#161616" stroke-width="1.1" fill="none" stroke-linecap="square"/>
<path d="M377.8,176.70H453.5M377.8,190.50H453.5M377.8,204.29H453.5M377.8,218.08H453.5M377.8,231.88H453.5M377.8,245.68H453.5M377.8,259.47H453.5M377.8,273.26H453.5M377.8,287.06H453.5M377.8,300.86H453.5M377.8,314.65H453.5M377.8,328.44H453.5M377.8,342.24H453.5M377.8,356.04H453.5M377.8,369.83H453.5M377.8,383.62H453.5M377.8,397.42H453.5M377.8,411.22H453.5M377.8,425.01H453.5M377.8,438.81H453.5M377.8,452.60H453.5M377.8,176.70V452.60M453.5,176.70V452.60M139.90,456.0V536.0M151.66,456.0V536.0M163.43,456.0V536.0M175.19,456.0V536.0M186.96,456.0V536.0M198.72,456.0V536.0M210.49,456.0V536.0M222.25,456.0V536.0M234.02,456.0V536.0M245.78,456.0V536.0M257.55,456.0V536.0M269.31,456.0V536.0M281.08,456.0V536.0M292.84,456.0V536.0M304.61,456.0V536.0M316.38,456.0V536.0M328.14,456.0V536.0M339.90,456.0V536.0M351.67,456.0V536.0M363.44,456.0V536.0M375.20,456.0V536.0M139.90,456.0H375.70M139.90,536.0H375.70" stroke="#e4e4e4" stroke-width="1" fill="none"/>
<path d="M139.7,540.5H336" stroke="#efefef" stroke-width="1" fill="none"/>
<g font-size="5.35" fill="#222" stroke="#222" stroke-width="0.2">
<text x="382.8" y="184.70">ACN90968_low_4dj6.pdb</text>
<text x="382.8" y="198.49">AAC54388_low_4dj6.pdb</text>
<text x="382.8" y="212.29">AHF20373_high_6N5A.pdb</text>
<text x="382.8" y="226.08">AGU69978_high_6N5A.pdb</text>
<text x="382.8" y="239.88">AAC54377_high_6N5A.pdb</text>
<text x="382.8" y="253.67">AAC54383_low_4dj6.pdb</text>
<text x="382.8" y="267.47">EPI168665_high_6N5A.pdb</text>
<text x="382.8" y="281.26">EPI623939_high_6N5A.pdb</text>
<text x="382.8" y="295.06">AAA43152_high_6N5A.pdb</text>
<text x="382.8" y="308.85">AEK84772_low_4dj6.pdb</text>
<text x="382.8" y="322.65">BAQ21382_low_4dj6.pdb</text>
<text x="382.8" y="336.44">ABI94581_high_6N5A.pdb</text>
<text x="382.8" y="350.24">AAR02639_high_6N5A.pdb</text>
<text x="382.8" y="364.03">CAA44429_low_4dj6.pdb</text>
<text x="382.8" y="377.83">AAA56803_high_6N5A.pdb</text>
<text x="382.8" y="391.62">AGB51388_high_6N5A.pdb</text>
<text x="382.8" y="405.42">ACZ36872_low_4dj6.pdb</text>
<text x="382.8" y="419.21">AAR96248_low_4dj6.pdb</text>
<text x="382.8" y="433.01">AAG10671_low_4dj6.pdb</text>
<text x="382.8" y="446.80">AAC40998_low_4dj6.pdb</text>
<text transform="translate(147.08,531.2) rotate(-90)">ACN90968_low_4dj6.pdb</text>
<text transform="translate(158.85,531.2) rotate(-90)">AAC54388_low_4dj6.pdb</text>
<text transform="translate(170.61,531.2) rotate(-90)">AHF20373_high_6N5A.pdb</text>
<text transform="translate(182.38,531.2) rotate(-90)">AGU69978_high_6N5A.pdb</text>
<text transform="translate(194.14,531.2) rotate(-90)">AAC54377_high_6N5A.pdb</text>
<text transform="translate(205.91,531.2) rotate(-90)">AAC54383_low_4dj6.pdb</text>
<text transform="translate(217.67,531.2) rotate(-90)">EPI168665_high_6N5A.pdb</text>
<text transform="translate(229.44,531.2) rotate(-90)">EPI623939_high_6N5A.pdb</text>
<text transform="translate(241.20,531.2) rotate(-90)">AAA43152_high_6N5A.pdb</text>
<text transform="translate(252.97,531.2) rotate(-90)">AEK84772_low_4dj6.pdb</text>
<text transform="translate(264.73,531.2) rotate(-90)">BAQ21382_low_4dj6.pdb</text>
<text transform="translate(276.50,531.2) rotate(-90)">ABI94581_high_6N5A.pdb</text>
<text transform="translate(288.26,531.2) rotate(-90)">AAR02639_high_6N5A.pdb</text>
<text transform="translate(300.03,531.2) rotate(-90)">CAA44429_low_4dj6.pdb</text>
<text transform="translate(311.79,531.2) rotate(-90)">AAA56803_high_6N5A.pdb</text>
<text transform="translate(323.56,531.2) rotate(-90)">AGB51388_high_6N5A.pdb</text>
<text transform="translate(335.32,531.2) rotate(-90)">ACZ36872_low_4dj6.pdb</text>
<text transform="translate(347.09,531.2) rotate(-90)">AAR96248_low_4dj6.pdb</text>
<text transform="translate(358.85,531.2) rotate(-90)">AAG10671_low_4dj6.pdb</text>
<text transform="translate(370.62,531.2) rotate(-90)">AAC40998_low_4dj6.pdb</text>
</g>
</svg>
</body></html>
